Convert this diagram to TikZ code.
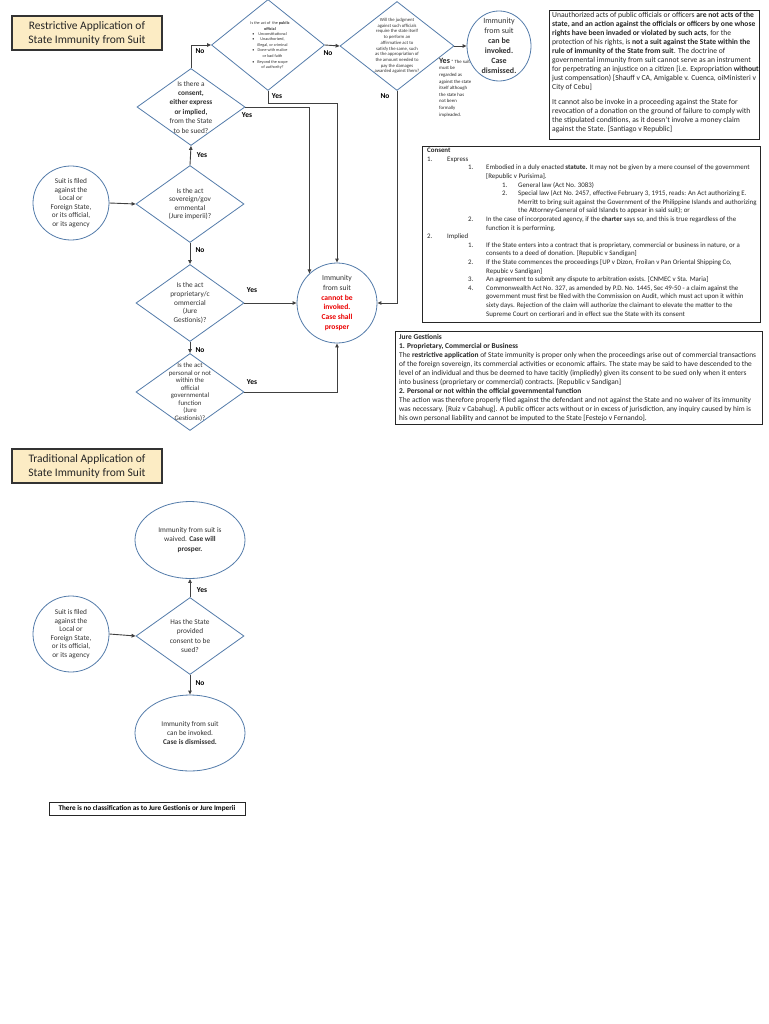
\documentclass[tikz,border=0pt]{standalone}
\usepackage{fontspec}
\setmainfont{Carlito}
\usetikzlibrary{arrows.meta, positioning, calc, shapes.geometric}
\definecolor{flowblue}{RGB}{84,124,170}
\definecolor{titlefill}{RGB}{252,236,196}
\definecolor{linegray}{RGB}{64,64,64}
\definecolor{invred}{RGB}{235,0,0}
\newcommand{\numA}[2]{\makebox[20pt][l]{#1}#2}
\newcommand{\numB}[2]{\hspace*{41pt}\makebox[18pt][l]{#1}#2}
\newcommand{\numC}[2]{\hspace*{75pt}\makebox[16pt][l]{#1}#2}
\newcommand{\contB}[1]{\hspace*{59pt}#1}
\newcommand{\contC}[1]{\hspace*{91pt}#1}
\begin{document}
\begin{tikzpicture}[x=1pt, y=-1pt,
    decision/.style={diamond, draw=flowblue, line width=0.8pt, inner sep=0pt, minimum width=108pt, minimum height=77pt},
    terminal/.style={ellipse, draw=flowblue, line width=0.8pt, inner sep=0pt},
    qtext/.style={align=center, inner sep=0pt, text=black!80, font=\fontsize{7.3}{8.6}\selectfont},
    lbl/.style={inner sep=0pt, font=\bfseries\fontsize{7.5}{8}\selectfont},
    conn/.style={draw=linegray, line width=0.9pt, -{Triangle[length=4pt,width=3.5pt]}},
    titlebox/.style={draw=black!80, line width=1.1pt, fill=titlefill, minimum width=150pt, minimum height=34pt, align=center, text=black!85, font=\fontsize{11.5}{14}\selectfont},
    infobox/.style={draw=black!85, line width=1pt, inner sep=0pt, anchor=north west},
    boxtext/.style={align=left, inner sep=0pt, anchor=north west, text=black!85, font=\fontsize{7.4}{9}\selectfont}]
    \useasboundingbox (0,0) rectangle (768,1024);
    \fill[white] (0,0) rectangle (768,1024);

    % restrictive application
    \node[titlebox] (title1) at (87,33) {Restrictive Application of\\State Immunity from Suit};

    \node[terminal, minimum width=76pt, minimum height=74pt] (suit1) at (71,203) {};
    \node[qtext] (suit1-t) at (suit1) {Suit is filed\\against the\\Local or\\Foreign State,\\or its official,\\or its agency};

    \node[decision] (sov) at (190,204) {};
    \node[qtext] (sov-t) at (sov) {Is the act\\sovereign/gov\\ernmental\\(Jure imperii)?};

    \node[decision] (consq) at (191,107) {};
    \node[qtext, font=\fontsize{7.3}{9.4}\selectfont] (consq-t) at (consq) {Is there a\\\textbf{consent,}\\\textbf{either express}\\\textbf{or implied,}\\from the State\\to be sued?};

    \node[decision] (prop) at (190,303) {};
    \node[qtext] (prop-t) at (prop) {Is the act\\proprietary/c\\ommercial\\(Jure\\Gestionis)?};

    \node[decision] (pers) at (190,392) {};
    \node[qtext, font=\fontsize{6.8}{7.5}\selectfont] (pers-t) at (pers) {Is the act\\personal or not\\within the\\official\\governmental\\function\\(Jure\\Gestionis)?};

    \node[decision, minimum width=113pt, minimum height=91pt] (pub) at (268,45) {};
    \node[qtext, font=\fontsize{4.2}{5.6}\selectfont] (pub-t) at (270,46) {Is the act of\ \ the \textbf{public}\\\textbf{official}\\
        \begin{tabular}{@{}l@{\hspace{3pt}}c@{}}
            \textbullet & Unconstitutional\\
            \textbullet & Unauthorized,\\
             & illegal, or criminal\\
            \textbullet & Done with malice\\
             & or bad faith\\
            \textbullet & Beyond the scope\\
             & of authority?
        \end{tabular}};

    \node[decision, minimum width=114pt, minimum height=89pt] (judg) at (397,46) {};
    \node[qtext, font=\fontsize{4.7}{5.7}\selectfont] (judg-t) at (judg) {Will the judgment\\against such officials\\require the state itself\\to perform an\\affirmative act to\\satisfy the same, such\\as the appropriation of\\the amount needed to\\pay the damages\\awarded against them?};

    \node[terminal, minimum width=64pt, minimum height=70pt] (invk) at (499,46) {};
    \node[qtext, font=\fontsize{8}{10}\selectfont] (invk-t) at (invk) {Immunity\\from suit\\\textbf{can be}\\\textbf{invoked.}\\\textbf{Case}\\\textbf{dismissed.}};

    \node[terminal, minimum width=80pt, minimum height=80pt] (inv) at (337,303) {};
    \node[qtext, font=\fontsize{7.6}{9.8}\selectfont] (inv-t) at (inv) {Immunity\\from suit\\\textcolor{invred}{\textbf{cannot be}}\\\textcolor{invred}{\textbf{invoked.}}\\\textcolor{invred}{\textbf{Case shall}}\\\textcolor{invred}{\textbf{prosper}}};

    \node[align=left, inner sep=0pt, anchor=north west, text=black!85, font=\fontsize{4.8}{6.6}\selectfont] (suitnote) at (439,58)
        {{\bfseries\fontsize{8}{8}\selectfont Yes} * The suit\\must be\\regarded as\\against the state\\itself although\\the state has\\not been\\formally\\impleaded.};

    \draw[conn] (suit1.east) -- (sov.west);
    \draw[conn] (sov.north) -- (consq.south);
    \draw[conn] (sov.south) -- (prop.north);
    \draw[conn] (prop.south) -- (pers.north);
    \draw[conn] (prop.east) -- (inv.west);
    \draw[conn] (pers.east) -| (inv.south);
    \draw[conn] (consq.east) -| (inv.133);
    \draw[conn] (consq.north) |- (pub.west);
    \draw[conn] (pub.east) -- (judg.west);
    \draw[conn] (pub.south) -- ++(0,13) -| (inv.north);
    \draw[conn] (judg.east) -- (invk.west);
    \draw[conn] (judg.south) |- (inv.east);

    \foreach \lx/\ly/\txt [count=\i] in {200/51/No, 328/53/No, 277/96/Yes, 385/96/No, 247/115/Yes,
        202/155/Yes, 200/250/No, 252/290/Yes, 200/350/No, 252/382/Yes, 202/590/Yes, 200/683/No}
        \node[lbl] (lbl\i) at (\lx,\ly) {\txt};

    \node[infobox, minimum width=210pt, minimum height=129pt] (unauthbox) at (549,10) {};
    \node[boxtext, font=\fontsize{7.6}{9}\selectfont] (unauth) at (552,12) {Unauthorized acts of public officials or officers \textbf{are not acts of the}\\
        \textbf{state, and an action against the officials or officers by one whose}\\
        \textbf{rights have been invaded or violated by such acts}, for the\\
        protection of his rights, is \textbf{not a suit against the State within the}\\
        \textbf{rule of immunity of the State from suit}. The doctrine of\\
        governmental immunity from suit cannot serve as an instrument\\
        for perpetrating an injustice on a citizen [i.e. Expropriation \textbf{without}\\
        just compensation) [Shauff v CA, Amigable v. Cuenca, oiMinisteri v\\
        City of Cebu]\\[6pt]
        It cannot also be invoke in a proceeding against the State for\\
        revocation of a donation on the ground of failure to comply with\\
        the stipulated conditions, as it doesn't involve a money claim\\
        against the State. [Santiago v Republic]};

    \node[infobox, minimum width=338pt, minimum height=176pt] (consbox) at (422,146) {};
    \node[boxtext, font=\fontsize{6.9}{8.6}\selectfont] (consent) at (427,148) {\textbf{Consent}\\
        \numA{1.}{Express}\\
        \numB{1.}{Embodied in a duly enacted \textbf{statute.} It may not be given by a mere counsel of the government}\\
        \contB{[Republic v Purisima].}\\
        \numC{1.}{General law (Act No. 3083)}\\
        \numC{2.}{Special law (Act No. 2457, effective February 3, 1915, reads: An Act authorizing E.}\\
        \contC{Merritt to bring suit against the Government of the Philippine Islands and authorizing}\\
        \contC{the Attorney-General of said Islands to appear in said suit); or}\\
        \numB{2.}{In the case of incorporated agency, if the \textbf{charter} says so, and this is true regardless of the}\\
        \contB{function it is performing.}\\
        \numA{2.}{Implied}\\
        \numB{1.}{If the State enters into a contract that is proprietary, commercial or business in nature, or a}\\
        \contB{consents to a deed of donation. [Republic v Sandigan]}\\
        \numB{2.}{If the State commences the proceedings [UP v Dizon, Froilan v Pan Oriental Shipping Co,}\\
        \contB{Repubic v Sandigan]}\\
        \numB{3.}{An agreement to submit any dispute to arbitration exists. [CNMEC v Sta. Maria]}\\
        \numB{4.}{Commonwealth Act No. 327, as amended by P.D. No. 1445, Sec 49-50 - a claim against the}\\
        \contB{government must first be filed with the Commission on Audit, which must act upon it within}\\
        \contB{sixty days. Rejection of the claim will authorize the claimant to elevate the matter to the}\\
        \contB{Supreme Court on certiorari and in effect sue the State with its consent}};

    \node[infobox, minimum width=367pt, minimum height=93pt] (jurebox) at (395,331) {};
    \node[boxtext] (jure) at (399,334) {\textbf{Jure Gestionis}\\
        \textbf{1. Proprietary, Commercial or Business}\\
        The \textbf{restrictive application} of State immunity is proper only when the proceedings arise out of commercial transactions\\
        of the foreign sovereign, its commercial activities or economic affairs. The state may be said to have descended to the\\
        level of an individual and thus be deemed to have tacitly (impliedly) given its consent to be sued only when it enters\\
        into business (proprietary or commercial) contracts. [Republic v Sandigan]\\
        \textbf{2. Personal or not within the official governmental function}\\
        The action was therefore properly filed against the defendant and not against the State and no waiver of its immunity\\
        was necessary. [Ruiz v Cabahug]. A public officer acts without or in excess of jurisdiction, any inquiry caused by him is\\
        his own personal liability and cannot be imputed to the State [Festejo v Fernando].};

    % traditional application
    \node[titlebox] (title2) at (87,466) {Traditional Application of\\State Immunity from Suit};

    \node[terminal, minimum width=76pt, minimum height=76pt] (suit2) at (71,634) {};
    \node[qtext] (suit2-t) at (suit2) {Suit is filed\\against the\\Local or\\Foreign State,\\or its official,\\or its agency};

    \node[decision] (cons2) at (190,636) {};
    \node[qtext, font=\fontsize{7.3}{9.2}\selectfont] (cons2-t) at (cons2) {Has the State\\provided\\consent to be\\sued?};

    \node[terminal, minimum width=110pt, minimum height=77pt] (waiv) at (190,540) {};
    \node[qtext, font=\fontsize{7.3}{9.2}\selectfont] (waiv-t) at (waiv) {Immunity from suit is\\waived. \textbf{Case will}\\\textbf{prosper.}};

    \node[terminal, minimum width=110pt, minimum height=76pt] (dism) at (190,733) {};
    \node[qtext, font=\fontsize{7.3}{9.2}\selectfont] (dism-t) at (dism) {Immunity from suit\\can be invoked.\\\textbf{Case is dismissed.}};

    \draw[conn] (suit2.east) -- (cons2.west);
    \draw[conn] (cons2.north) -- (waiv.south);
    \draw[conn] (cons2.south) -- (dism.north);

    \node[draw=black!85, line width=0.8pt, minimum width=196pt, minimum height=13pt, inner sep=0pt,
        font=\bfseries\fontsize{7.2}{8}\selectfont] (noclass) at (147,808.5)
        {There is no classification as to Jure Gestionis or Jure Imperii};
\end{tikzpicture}
\end{document}
